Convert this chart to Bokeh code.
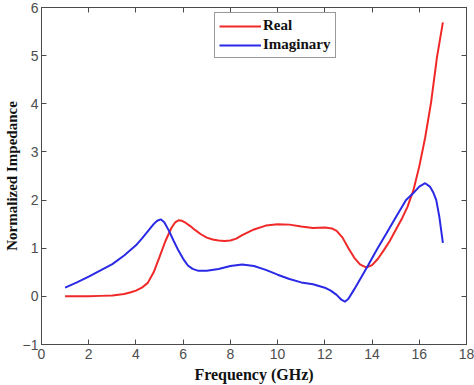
from bokeh.plotting import figure
from bokeh.models import Range1d, LinearAxis, FixedTicker, Legend, LegendItem
from bokeh.embed import file_html
from bokeh.resources import INLINE

# ---- data ----
freq_real = [1.0, 1.5, 2.0, 2.5, 3.0, 3.5, 3.75, 4.0, 4.25, 4.5, 4.75, 5.0, 5.25, 5.5, 5.65,
             5.8, 5.95, 6.1, 6.3, 6.5, 6.75, 7.0, 7.25, 7.5, 7.75, 8.0, 8.25, 8.5, 9.0, 9.5,
             10.0, 10.5, 11.0, 11.5, 12.0, 12.3, 12.5, 12.75, 13.0, 13.25, 13.5, 13.75, 14.0,
             14.25, 14.5, 14.75, 15.0, 15.25, 15.5, 15.75, 16.0, 16.25, 16.5, 16.75, 17.0]
real = [0.0, 0.0, 0.0, 0.01, 0.02, 0.05, 0.08, 0.12, 0.18, 0.28, 0.5, 0.82, 1.15, 1.42, 1.53,
        1.58, 1.57, 1.53, 1.46, 1.38, 1.29, 1.22, 1.18, 1.16, 1.15, 1.16, 1.2, 1.27, 1.39, 1.47,
        1.5, 1.49, 1.45, 1.42, 1.43, 1.41, 1.36, 1.22, 1.0, 0.8, 0.66, 0.6, 0.65,
        0.78, 0.96, 1.15, 1.38, 1.6, 1.86, 2.2, 2.7, 3.3, 4.03, 4.97, 5.69]

freq_imag = [1.0, 1.5, 2.0, 2.5, 3.0, 3.5, 4.0, 4.25, 4.5, 4.75, 4.9, 5.05, 5.2, 5.4, 5.6,
             5.8, 6.0, 6.2, 6.4, 6.65, 7.0, 7.5, 8.0, 8.5, 9.0, 9.5, 10.0, 10.5, 11.0, 11.5,
             12.0, 12.25, 12.5, 12.7, 12.85, 13.0, 13.25, 13.5, 13.84, 14.2, 14.6, 15.0, 15.44,
             15.72, 16.0, 16.25, 16.45, 16.6, 16.72, 16.85, 17.0]
imag = [0.18, 0.29, 0.41, 0.54, 0.67, 0.85, 1.06, 1.2, 1.35, 1.5, 1.57, 1.6, 1.54, 1.36, 1.15,
        0.95, 0.78, 0.64, 0.57, 0.53, 0.53, 0.57, 0.63, 0.66, 0.63, 0.55, 0.45, 0.36, 0.29, 0.25,
        0.18, 0.12, 0.03, -0.07, -0.11, -0.05, 0.15, 0.36, 0.65, 0.97, 1.3, 1.64, 2.0,
        2.13, 2.28, 2.35, 2.28, 2.15, 2.0, 1.65, 1.11]

x_ticks = [0, 2, 4, 6, 8, 10, 12, 14, 16, 18]
y_ticks = [-1, 0, 1, 2, 3, 4, 5, 6]
series_names = ["Real", "Imaginary"]
x_label = "Frequency (GHz)"
y_label = "Normalized Impedance"

RED = "#f02828"
BLUE = "#2a2ae6"
FRAME = "#4a4a4a"
TICKTXT = "#4d4d4d"

p = figure(width=474, height=385, output_backend="svg", toolbar_location=None,
           x_range=Range1d(0, 18), y_range=Range1d(-1, 6),
           min_border_left=0, min_border_right=8, min_border_top=7, min_border_bottom=0)
p.grid.visible = False
p.outline_line_color = FRAME
p.outline_line_width = 1
p.background_fill_color = "white"
p.border_fill_color = "white"

def style_axis(ax, ticks, show_labels):
    ax.ticker = FixedTicker(ticks=ticks)
    ax.major_tick_in = 5
    ax.major_tick_out = 0
    ax.minor_tick_line_color = None
    ax.major_tick_line_color = FRAME
    ax.axis_line_color = FRAME
    if show_labels:
        ax.major_label_text_font = "Liberation Sans"
        ax.major_label_text_font_size = "14px"
        ax.major_label_text_color = TICKTXT
        ax.major_label_standoff = 3
    else:
        ax.major_label_text_font_size = "1px"
        ax.major_label_text_color = None
        ax.major_label_standoff = 0

style_axis(p.xaxis[0], x_ticks, True)
style_axis(p.yaxis[0], y_ticks, True)
p.xaxis[0].major_label_standoff = 4
p.xaxis[0].axis_label = x_label
p.yaxis[0].axis_label = y_label
for ax in (p.xaxis[0], p.yaxis[0]):
    ax.axis_label_text_font = "Liberation Serif"
    ax.axis_label_text_font_style = "bold"
    ax.axis_label_text_font_size = "16px"
    ax.axis_label_text_color = "#111111"
p.yaxis[0].axis_label_text_font_size = "15px"
p.xaxis[0].axis_label_standoff = 4
p.yaxis[0].axis_label_standoff = 0

top = LinearAxis()
style_axis(top, x_ticks, False)
p.add_layout(top, "above")
right = LinearAxis()
style_axis(right, y_ticks, False)
p.add_layout(right, "right")

r1 = p.line(freq_real, real, line_color=RED, line_width=2)
r2 = p.line(freq_imag, imag, line_color=BLUE, line_width=2)

legend = Legend(items=[LegendItem(label=series_names[0], renderers=[r1]),
                       LegendItem(label=series_names[1], renderers=[r2])],
                location=(173, 286))
legend.label_text_font = "Liberation Serif"
legend.label_text_font_style = "bold"
legend.label_text_font_size = "15px"
legend.label_text_color = "#111111"
legend.glyph_width = 42
legend.glyph_height = 16
legend.label_standoff = 2
legend.spacing = 2
legend.padding = 4
legend.margin = 0
legend.border_line_color = "#333333"
legend.border_line_width = 1
legend.background_fill_color = "white"
p.add_layout(legend, "center")

open("out.html", "w").write(file_html(p, INLINE))
